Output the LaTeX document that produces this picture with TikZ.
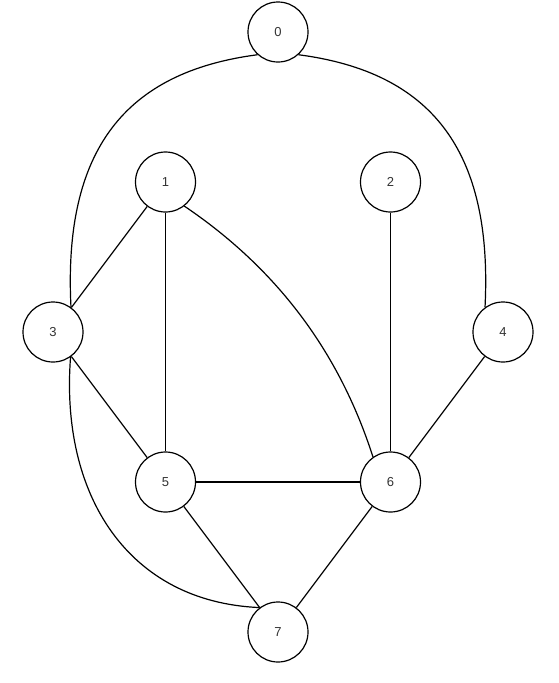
\documentclass[tikz,border=0pt]{standalone}
\usepackage{fontspec}
\setmainfont{Liberation Sans}
\definecolor{txt}{HTML}{333333}
\begin{document}
\begin{tikzpicture}[x=1pt,y=-1pt,
  vtx/.style={circle,draw=black,line width=1.2pt,fill=white,minimum size=60pt,inner sep=0pt,
    font=\fontsize{13}{15}\selectfont,text=txt},
  edge/.style={line width=1.2pt,draw=black}]
\useasboundingbox (0,0) rectangle (559,683);
\node[vtx] (n0) at (278,32) {0};
\node[vtx] (n1) at (165.5,182) {1};
\node[vtx] (n2) at (390.5,182) {2};
\node[vtx] (n3) at (53,332) {3};
\node[vtx] (n4) at (503,332) {4};
\node[vtx] (n5) at (165.5,482) {5};
\node[vtx] (n6) at (390.5,482) {6};
\node[vtx] (n7) at (278,632) {7};
\draw[edge] (n0.228) .. controls (125,72) and (63,150) .. (n3.54);
\draw[edge] (n0.312) .. controls (431,72) and (493,150) .. (n4.126);
\draw[edge] (n3.305) .. controls (60,495) and (128,602) .. (n7.127);
\draw[edge] (n1.-52) .. controls (276,268) and (339,351) .. (n6.125);
\draw[edge] (n1) -- (n3);
\draw[edge] (n1) -- (n5);
\draw[edge] (n2) -- (n6);
\draw[edge] (n3) -- (n5);
\draw[edge] (n4) -- (n6);
\draw[edge] (n5) -- (n6);
\draw[edge] (n5) -- (n7);
\draw[edge] (n6) -- (n7);
\end{tikzpicture}
\end{document}
